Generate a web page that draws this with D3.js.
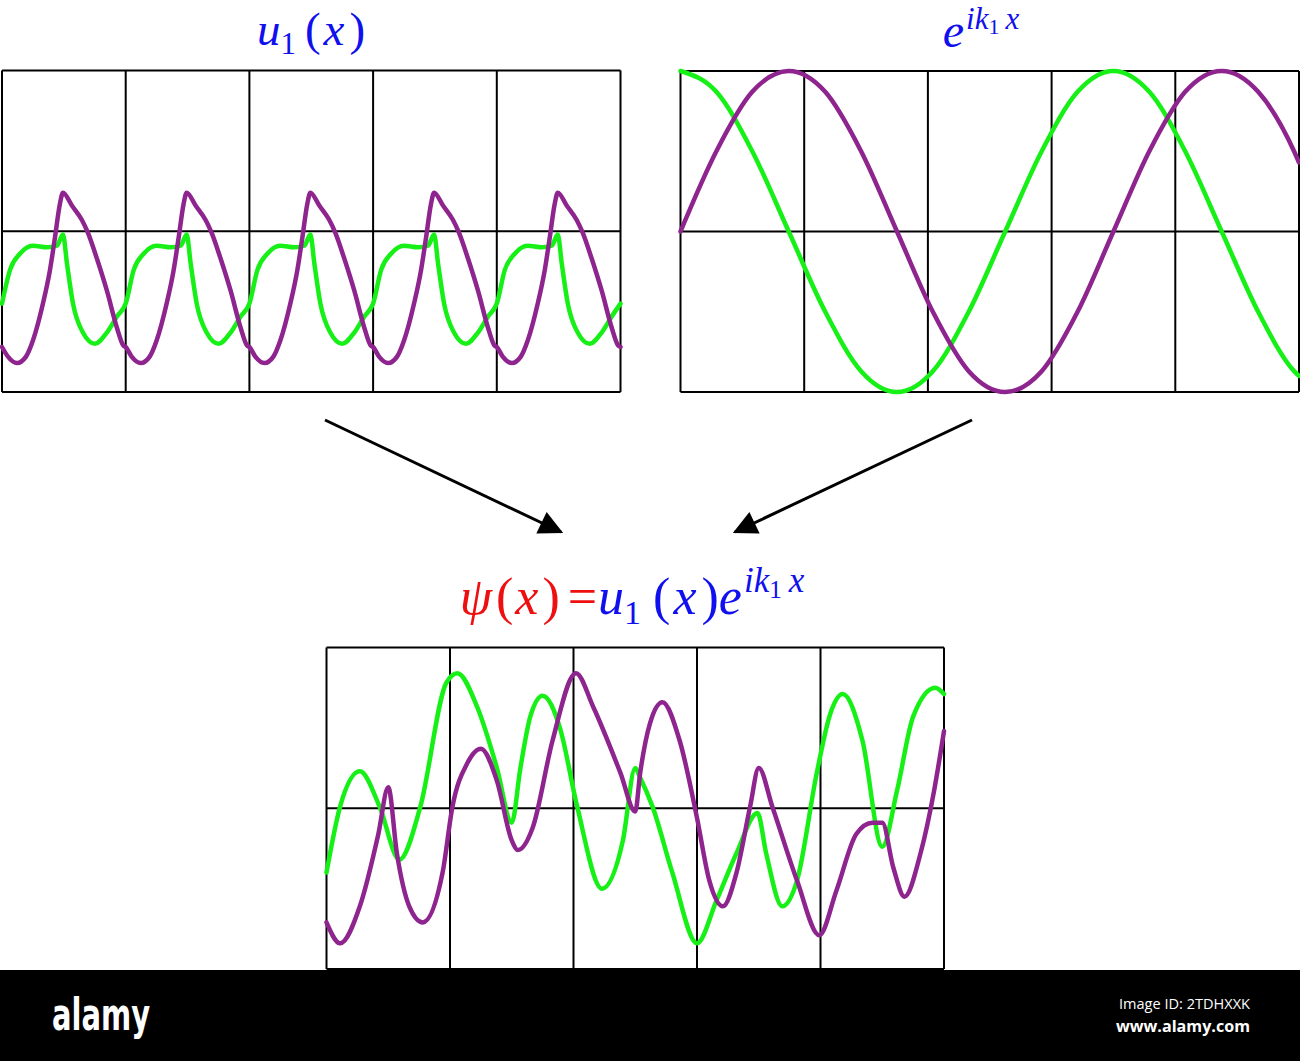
<!DOCTYPE html>
<html>
<head>
<meta charset="utf-8">
<script src="https://cdn.jsdelivr.net/npm/d3@7"></script>
<style>
  html, body { margin: 0; padding: 0; background: #fff; }
  svg { display: block; }
</style>
</head>
<body>
<div id="chart"></div>
<script>
// ---------- DATA (x in grid columns 0..5, values in -1..1) ----------
const gridColumns = [0, 1, 2, 3, 4, 5];
const gridRows = [0];

// u1(x): one period (one grid column), repeated 5 times
const u1Periods = 5;
const u1ReX = [0, 0.065, 0.145, 0.25, 0.364, 0.444, 0.493, 0.525, 0.574, 0.654, 0.751, 0.848, 0.929];
const u1Re  = [-0.45, -0.24, -0.14, -0.09, -0.10, -0.09, -0.02, -0.20, -0.45, -0.63, -0.70, -0.63, -0.53];
const u1ImX = [0, 0.048, 0.121, 0.194, 0.25, 0.331, 0.388, 0.428, 0.468, 0.493, 0.565, 0.646, 0.695, 0.767, 0.848, 0.929, 0.98];
const u1Im  = [-0.72, -0.78, -0.82, -0.78, -0.68, -0.45, -0.24, -0.04, 0.17, 0.24, 0.16, 0.07, -0.01, -0.17, -0.37, -0.60, -0.71];

// e^{ik1 x}
const expX  = [0, 0.29, 0.58, 0.875, 1.17, 1.46, 1.75, 2.04, 2.33, 2.625, 2.92, 3.21, 3.5, 3.79, 4.08, 4.375, 4.67, 4.96, 5.0];
const expRe = [1, 0.87, 0.5, 0, -0.5, -0.87, -1, -0.87, -0.5, 0, 0.5, 0.87, 1, 0.87, 0.5, 0, -0.5, -0.87, -0.90];
const expIm = [0, 0.5, 0.87, 1, 0.87, 0.5, 0, -0.5, -0.87, -1, -0.87, -0.5, 0, 0.5, 0.87, 1, 0.87, 0.5, 0.43];

// psi(x) = u1(x) e^{ik1 x}
const psiReX = [0.00, 0.11, 0.27, 0.43, 0.59, 0.76, 0.97, 1.06, 1.22, 1.38, 1.50, 1.57, 1.65, 1.75, 1.89, 2.03, 2.23, 2.40, 2.50, 2.54, 2.64, 2.80, 3.00, 3.16, 3.32, 3.49, 3.56, 3.69, 3.81, 3.97, 4.08, 4.18, 4.34, 4.50, 4.62, 4.75, 4.93, 5.00];
const psiRe  = [-0.40, 0.01, 0.23, 0.01, -0.32, 0.01, 0.78, 0.84, 0.63, 0.25, -0.09, 0.25, 0.57, 0.70, 0.50, 0.01, -0.50, -0.20, 0.25, 0.19, 0.01, -0.40, -0.84, -0.57, -0.28, -0.03, -0.28, -0.61, -0.45, 0.22, 0.59, 0.71, 0.42, -0.24, 0.11, 0.57, 0.75, 0.71];
const psiImX = [0.00, 0.11, 0.27, 0.42, 0.50, 0.57, 0.67, 0.78, 0.94, 1.02, 1.14, 1.25, 1.38, 1.50, 1.55, 1.67, 1.83, 2.02, 2.16, 2.38, 2.50, 2.54, 2.62, 2.72, 2.86, 3.00, 3.10, 3.21, 3.32, 3.43, 3.50, 3.61, 3.81, 3.99, 4.13, 4.29, 4.42, 4.50, 4.59, 4.68, 4.81, 4.92, 5.00];
const psiIm  = [-0.71, -0.84, -0.61, -0.16, 0.13, -0.28, -0.61, -0.71, -0.40, 0.01, 0.28, 0.37, 0.17, -0.20, -0.26, -0.12, 0.42, 0.84, 0.63, 0.22, -0.02, 0.22, 0.53, 0.66, 0.42, -0.06, -0.45, -0.61, -0.40, 0.01, 0.25, 0.01, -0.45, -0.79, -0.51, -0.16, -0.09, -0.09, -0.37, -0.55, -0.28, 0.11, 0.48];

// ---------- STYLE ----------
const GREEN = "#16f016";
const PURPLE = "#8e248e";
const BLUE = "#1010ee";
const RED = "#ee1010";
const W = 1300, H = 1061;

const svg = d3.select("#chart").append("svg")
  .attr("width", W).attr("height", H)
  .attr("viewBox", `0 0 ${W} ${H}`);

svg.append("rect").attr("width", W).attr("height", H).attr("fill", "#fff");

// tile one period of u1
function tile(xs, ys, n) {
  const out = [];
  for (let p = 0; p < n; p++) xs.forEach((x, i) => out.push([p + x, ys[i]]));
  out.push([n, ys[0]]);
  return out;
}
const zip = (xs, ys) => xs.map((x, i) => [x, ys[i]]);

const panels = [
  { box: [2, 620.5, 70.5, 392], series: [tile(u1ReX, u1Re, u1Periods), tile(u1ImX, u1Im, u1Periods)] },
  { box: [680.5, 1299, 71, 392], series: [zip(expX, expRe), zip(expX, expIm)] },
  { box: [326.5, 944, 647.5, 969], series: [zip(psiReX, psiRe), zip(psiImX, psiIm)] }
];
const colors = [GREEN, PURPLE];

panels.forEach(pn => {
  const [l, r, t, b] = pn.box;
  const x = d3.scaleLinear().domain([0, 5]).range([l, r]);
  const y = d3.scaleLinear().domain([-1, 1]).range([b, t]);
  const g = svg.append("g");

  // grid
  g.selectAll("line.v").data(gridColumns).enter().append("line")
    .attr("x1", d => x(d)).attr("x2", d => x(d))
    .attr("y1", y(-1)).attr("y2", y(1))
    .attr("stroke", "#000").attr("stroke-width", 2);
  g.selectAll("line.h").data(gridRows.concat([-1, 1])).enter().append("line")
    .attr("x1", x(0)).attr("x2", x(5))
    .attr("y1", d => y(d)).attr("y2", d => y(d))
    .attr("stroke", "#000").attr("stroke-width", 2);

  const line = d3.line().x(d => x(d[0])).y(d => y(d[1])).curve(d3.curveMonotoneX);
  pn.series.forEach((s, i) => {
    g.append("path").datum(s)
      .attr("d", line)
      .attr("fill", "none")
      .attr("stroke", colors[i])
      .attr("stroke-width", 4.5)
      .attr("stroke-linejoin", "round")
      .attr("stroke-linecap", "round");
  });
});

// ---------- ARROWS ----------
const defs = svg.append("defs");
defs.append("marker")
  .attr("id", "ah").attr("viewBox", "0 0 10 10")
  .attr("refX", 9).attr("refY", 5)
  .attr("markerUnits", "userSpaceOnUse")
  .attr("markerWidth", 28).attr("markerHeight", 24)
  .attr("orient", "auto")
  .append("path").attr("d", "M0,0 L10,5 L0,10 Z").attr("fill", "#000");

const arrows = [
  [[325, 420], [561, 532]],
  [[972, 420], [735, 532]]
];
svg.selectAll("line.arrow").data(arrows).enter().append("line")
  .attr("x1", d => d[0][0]).attr("y1", d => d[0][1])
  .attr("x2", d => d[1][0]).attr("y2", d => d[1][1])
  .attr("stroke", "#000").attr("stroke-width", 3)
  .attr("marker-end", "url(#ah)");

// ---------- MATH LABELS ----------
const SERIF = "'Liberation Serif', 'DejaVu Serif', serif";
function mathText(xc, yb, size, parts) {
  const t = svg.append("text")
    .attr("x", xc).attr("y", yb)
    .attr("text-anchor", "middle")
    .attr("font-family", SERIF)
    .attr("font-size", size);
  parts.forEach(p => {
    const s = t.append("tspan").text(p.t)
      .attr("fill", p.c)
      .attr("font-style", p.i ? "italic" : "normal");
    if (p.s) s.attr("font-size", p.s);
    if (p.dy) s.attr("dy", p.dy);
    if (p.dx) s.attr("dx", p.dx);
  });
  return t;
}

mathText(311, 45, 47, [
  { t: "u", i: true, c: BLUE },
  { t: "1", c: BLUE, s: 31, dy: 9 },
  { t: "(", c: BLUE, dy: -9, dx: 9 },
  { t: "x", i: true, c: BLUE, dx: 3 },
  { t: ")", c: BLUE, dx: 5 }
]);

mathText(981, 47, 48, [
  { t: "e", i: true, c: BLUE },
  { t: "ik", i: true, c: BLUE, s: 31, dy: -18, dx: 2 },
  { t: "1", c: BLUE, s: 22, dy: 5 },
  { t: "x", i: true, c: BLUE, s: 31, dy: -5, dx: 6 }
]);

mathText(632, 614, 52, [
  { t: "ψ", i: true, c: RED },
  { t: "(", c: RED, dx: 4 },
  { t: "x", i: true, c: RED, dx: 2 },
  { t: ")", c: RED, dx: 4 },
  { t: "=", c: RED, dx: 8 },
  { t: "u", i: true, c: BLUE, dx: 1 },
  { t: "1", c: BLUE, s: 34, dy: 10 },
  { t: "(", c: BLUE, dy: -10, dx: 12 },
  { t: "x", i: true, c: BLUE, dx: 3 },
  { t: ")", c: BLUE, dx: 5 },
  { t: "e", i: true, c: BLUE },
  { t: "ik", i: true, c: BLUE, s: 35, dy: -22, dx: 2 },
  { t: "1", c: BLUE, s: 25, dy: 6 },
  { t: "x", i: true, c: BLUE, s: 35, dy: -6, dx: 7 }
]);

// ---------- FOOTER ----------
svg.append("rect").attr("x", 0).attr("y", 970).attr("width", W).attr("height", H - 970).attr("fill", "#000");
svg.append("text").text("alamy")
  .attr("x", 52).attr("y", 1030)
  .attr("font-family", "'DejaVu Sans', sans-serif").attr("font-weight", "bold")
  .attr("font-size", 44).attr("fill", "#fff")
  .attr("textLength", 98).attr("lengthAdjust", "spacingAndGlyphs");
svg.append("text").text("Image ID: 2TDHXXK")
  .attr("x", 1119).attr("y", 1009)
  .attr("font-family", "'Open Sans', 'DejaVu Sans', sans-serif")
  .attr("font-size", 15).attr("fill", "#fff")
  .attr("textLength", 131).attr("lengthAdjust", "spacingAndGlyphs");
svg.append("text").text("www.alamy.com")
  .attr("x", 1116).attr("y", 1032)
  .attr("font-family", "'Open Sans', 'DejaVu Sans', sans-serif").attr("font-weight", "bold")
  .attr("font-size", 16).attr("fill", "#fff")
  .attr("textLength", 134).attr("lengthAdjust", "spacingAndGlyphs");
</script>
</body>
</html>
